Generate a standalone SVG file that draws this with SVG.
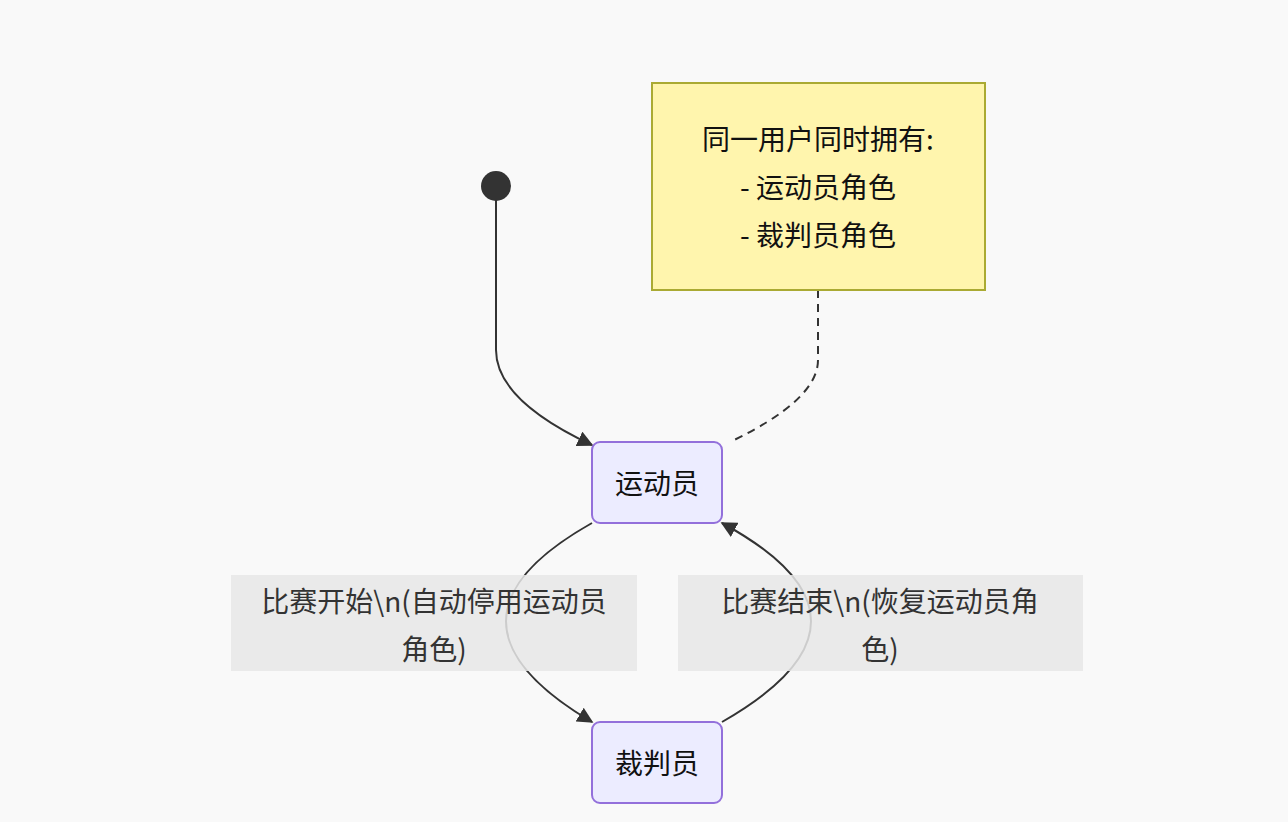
<svg xmlns="http://www.w3.org/2000/svg" width="1288" height="822" viewBox="0 0 1288 822">
<style>
.t{font-family:"Noto Sans CJK SC","Liberation Sans",sans-serif;font-size:28px;fill:#111;text-anchor:middle;dominant-baseline:central}
.l{fill:#333}
.node{fill:#ececff;stroke:#9370db;stroke-width:2}
.e{fill:none;stroke:#333;stroke-width:2}
</style>
<defs><marker id="a" viewBox="0 0 10 10" refX="9" refY="5" markerWidth="8" markerHeight="8" orient="auto"><path d="M0,0L10,5L0,10z" fill="#333"/></marker></defs>
<rect width="1288" height="822" fill="#f9f9f9"/>
<g id="connectors">
<path class="e" d="M496,200V350Q496,400 592,445" marker-end="url(#a)"/>
<path class="e" d="M592,523Q420,620 592,722" marker-end="url(#a)"/>
<path class="e" d="M722,722Q900,620 722,523" marker-end="url(#a)"/>
<path class="e" d="M818,290V360Q818,400 730,442" stroke-dasharray="8,6"/>
</g>
<g id="start"><circle cx="496" cy="186" r="15" fill="#333"/></g>
<g id="note"><rect x="652" y="83" width="333" height="207" fill="#fff5ad" stroke="#aaaa33" stroke-width="2"/>
<text class="t" x="818" y="138">同一用户同时拥有:</text><text class="t" x="818" y="186">- 运动员角色</text><text class="t" x="818" y="234">- 裁判员角色</text></g>
<g id="n1"><rect class="node" x="592" y="442" width="130" height="81" rx="8"/><text class="t" x="657" y="482">运动员</text></g>
<g id="n2"><rect class="node" x="592" y="722" width="130" height="81" rx="8"/><text class="t" x="657" y="762">裁判员</text></g>
<g id="lab1"><rect x="231" y="575" width="406" height="96" fill="#e8e8e8" opacity="0.85"/><text class="t l" x="434" y="600">比赛开始\n(自动停用运动员</text><text class="t l" x="434" y="648">角色)</text></g>
<g id="lab2"><rect x="678" y="575" width="405" height="96" fill="#e8e8e8" opacity="0.85"/><text class="t l" x="880" y="600">比赛结束\n(恢复运动员角</text><text class="t l" x="880" y="648">色)</text></g>
</svg>
